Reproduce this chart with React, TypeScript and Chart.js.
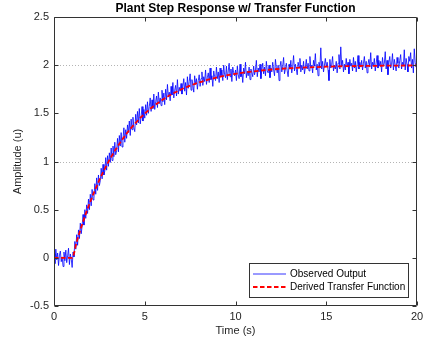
import React, { useEffect, useRef } from "react";
import { Chart, registerables } from "chart.js";

Chart.register(...registerables);

const FONT = "'Liberation Sans', Arial, Helvetica, sans-serif";

// Sampling interval of the observed signal (s)
const SAMPLE_STEP = 0.05;

// Observed (noisy) plant output, one value every SAMPLE_STEP seconds from 0 to 20 s
const observedOutput: number[] = [
  // 0 - 0.95 s
  0.04, -0.06, 0.09, -0.02, 0.05, -0.08, 0.03, 0.07, -0.04, 0.01, -0.09, 0.06, -0.03, 0.08, -0.05, 0.02, 0.10, -0.07, 0.04, -0.01,
  // 1 s
  -0.10, 0.06, 0.01, 0.17, 0.09, 0.24, 0.13, 0.29, 0.20, 0.36, 0.25, 0.33, 0.45, 0.34, 0.50, 0.41, 0.55, 0.46, 0.61, 0.50,
  // 2 s
  0.66, 0.54, 0.71, 0.60, 0.62, 0.77, 0.66, 0.83, 0.70, 0.86, 0.75, 0.80, 0.93, 0.82, 0.97, 0.86, 0.90, 1.04, 0.91, 1.06,
  // 3 s
  0.95, 1.09, 0.99, 1.14, 1.01, 1.16, 1.05, 1.20, 1.07, 1.11, 1.24, 1.10, 1.27, 1.16, 1.30, 1.15, 1.23, 1.35, 1.20, 1.33,
  // 4 s
  1.24, 1.38, 1.30, 1.42, 1.27, 1.44, 1.33, 1.46, 1.35, 1.31, 1.49, 1.38, 1.52, 1.40, 1.55, 1.39, 1.46, 1.57, 1.42, 1.54,
  // 5 s
  1.45, 1.59, 1.48, 1.62, 1.50, 1.57, 1.66, 1.52, 1.64, 1.55, 1.70, 1.54, 1.62, 1.68, 1.56, 1.72, 1.60, 1.66, 1.58, 1.74,
  // 6 s
  1.62, 1.71, 1.59, 1.75, 1.64, 1.80, 1.67, 1.72, 1.63, 1.78, 1.69, 1.82, 1.66, 1.74, 1.79, 1.68, 1.85, 1.70, 1.77, 1.73,
  // 7 s
  1.81, 1.70, 1.78, 1.86, 1.73, 1.82, 1.69, 1.88, 1.76, 1.83, 1.91, 1.74, 1.85, 1.79, 1.72, 1.89, 1.80, 1.86, 1.75, 1.84,
  // 8 s
  1.90, 1.78, 1.86, 1.93, 1.79, 1.88, 1.83, 1.95, 1.80, 1.87, 1.92, 1.82, 1.97, 1.85, 1.89, 1.78, 1.94, 1.88, 1.84, 1.98,
  // 9 s
  1.86, 1.93, 1.82, 1.97, 1.89, 1.95, 1.84, 2.00, 1.90, 1.87, 1.99, 1.85, 1.94, 2.02, 1.88, 1.96, 1.83, 1.98, 1.92, 1.89,
  // 10 s
  1.95, 1.84, 1.99, 1.90, 1.86, 2.01, 1.88, 1.93, 1.82, 1.97, 1.91, 2.03, 1.87, 1.94, 1.89, 1.98, 1.85, 1.96, 1.92, 1.88,
  // 11 s
  1.99, 1.90, 1.95, 2.05, 1.88, 1.97, 1.93, 2.01, 1.86, 1.96, 2.02, 1.91, 1.98, 1.89, 2.04, 1.94, 1.92, 2.00, 1.87, 1.97,
  // 12 s
  1.93, 2.03, 1.95, 1.89, 2.06, 1.97, 1.92, 2.00, 1.84, 1.98, 2.04, 1.93, 1.99, 2.08, 1.91, 1.96, 2.02, 1.94, 1.88, 2.01,
  // 13 s
  1.97, 2.05, 1.92, 1.99, 2.10, 1.94, 2.01, 1.96, 1.90, 2.03, 1.98, 2.07, 1.93, 2.00, 1.95, 2.04, 1.91, 1.98, 2.06, 1.96,
  // 14 s
  2.02, 1.94, 2.09, 1.97, 2.00, 1.92, 2.05, 1.99, 2.12, 1.95, 2.01, 1.89, 2.03, 1.97, 2.18, 1.96, 2.04, 1.93, 2.00, 2.07,
  // 15 s
  1.98, 2.03, 1.95, 1.84, 2.06, 1.97, 2.01, 2.09, 1.94, 2.00, 1.96, 2.04, 1.92, 2.02, 2.11, 1.96, 2.19, 1.99, 2.05, 1.93,
  // 16 s
  2.01, 1.95, 2.07, 1.98, 2.03, 1.91, 2.06, 1.99, 2.02, 1.94, 2.08, 1.97, 2.04, 1.93, 2.00, 2.10, 1.96, 2.03, 1.98, 2.05,
  // 17 s
  1.95, 2.02, 2.09, 1.97, 2.04, 1.92, 2.01, 2.06, 1.98, 2.13, 1.96, 2.03, 1.99, 2.07, 1.94, 2.02, 2.10, 1.97, 2.05, 1.99,
  // 18 s
  2.04, 1.93, 2.08, 1.99, 2.02, 2.14, 1.96, 2.05, 1.90, 2.03, 2.09, 1.97, 2.01, 2.12, 1.95, 2.06, 2.00, 1.94, 2.08, 2.02,
  // 19 s
  1.97, 2.05, 2.11, 1.96, 2.03, 1.99, 2.16, 1.95, 2.07, 2.01, 1.93, 2.09, 2.04, 2.13, 1.97, 2.06, 1.92, 2.17, 2.03, 1.98,
  // 20 s
  2.04,
];

// Derived transfer function response
const derivedTimes: number[] = [0, 0.5, 1, 1.25, 1.5, 1.75, 2, 2.5, 3, 3.5, 4, 4.5, 5, 5.5, 6, 6.5, 7, 7.5, 8, 9, 10, 11, 12, 13, 14, 15, 16, 17, 18, 19, 20];
const derivedValues: number[] = [0, 0, 0, 0.165, 0.317, 0.456, 0.583, 0.808, 0.997, 1.155, 1.289, 1.402, 1.497, 1.576, 1.643, 1.7, 1.747, 1.787, 1.821, 1.873, 1.91, 1.936, 1.955, 1.968, 1.977, 1.984, 1.989, 1.992, 1.994, 1.996, 1.997];

const xTicks: number[] = [0, 5, 10, 15, 20];
const yTicks: number[] = [-0.5, 0, 0.5, 1, 1.5, 2, 2.5];
const refLines: number[] = [1, 2];
const seriesLabels: string[] = ["Observed Output", "Derived Transfer Function"];

const titleText = "Plant Step Response w/ Transfer Function";
const xTitle = "Time (s)";
const yTitle = "Amplitude (u)";

const AXIS_COLOR = "#333333";

const refLinePlugin = {
  id: "refLines",
  beforeDatasetsDraw(chart: any) {
    const { ctx, chartArea } = chart;
    const y = chart.scales.y;
    ctx.save();
    ctx.strokeStyle = "#b4b4b4";
    ctx.lineWidth = 1;
    ctx.setLineDash([1, 2]);
    refLines.forEach((v) => {
      const py = Math.round(y.getPixelForValue(v)) + 0.5;
      ctx.beginPath();
      ctx.moveTo(chartArea.left, py);
      ctx.lineTo(chartArea.right, py);
      ctx.stroke();
    });
    ctx.restore();
  },
};

const framePlugin = {
  id: "frame",
  afterDatasetsDraw(chart: any) {
    const { ctx, chartArea } = chart;
    const xs = chart.scales.x;
    const ys = chart.scales.y;
    const l = Math.round(chartArea.left) + 0.5;
    const r = Math.round(chartArea.right) - 0.5;
    const t = Math.round(chartArea.top) + 0.5;
    const b = Math.round(chartArea.bottom) - 0.5;
    const tl = 4;
    ctx.save();
    ctx.strokeStyle = AXIS_COLOR;
    ctx.lineWidth = 1;
    ctx.beginPath();
    ctx.rect(l, t, r - l, b - t);
    xTicks.forEach((v) => {
      const px = Math.round(xs.getPixelForValue(v)) + 0.5;
      ctx.moveTo(px, b);
      ctx.lineTo(px, b - tl);
      ctx.moveTo(px, t);
      ctx.lineTo(px, t + tl);
    });
    yTicks.forEach((v) => {
      const py = Math.round(ys.getPixelForValue(v)) + 0.5;
      ctx.moveTo(l, py);
      ctx.lineTo(l + tl, py);
      ctx.moveTo(r, py);
      ctx.lineTo(r - tl, py);
    });
    ctx.stroke();
    ctx.restore();
  },
};

const legendPlugin = {
  id: "boxLegend",
  afterDraw(chart: any) {
    const { ctx, chartArea } = chart;
    const w = 160;
    const h = 35;
    const x = Math.round(chartArea.right - 8 - w);
    const y = Math.round(chartArea.bottom - 8 - h);
    ctx.save();
    ctx.fillStyle = "#ffffff";
    ctx.fillRect(x, y, w, h);
    ctx.strokeStyle = AXIS_COLOR;
    ctx.lineWidth = 1;
    ctx.strokeRect(x + 0.5, y + 0.5, w - 1, h - 1);
    chart.data.datasets.forEach((ds: any, i: number) => {
      const cy = y + 11 + i * 13;
      ctx.strokeStyle = ds.borderColor;
      ctx.lineWidth = ds.borderWidth;
      ctx.setLineDash(ds.borderDash || []);
      ctx.beginPath();
      ctx.moveTo(x + 4, cy);
      ctx.lineTo(x + 37, cy);
      ctx.stroke();
      ctx.setLineDash([]);
      ctx.fillStyle = "#000000";
      ctx.font = `10px ${FONT}`;
      ctx.textBaseline = "middle";
      ctx.textAlign = "left";
      ctx.fillText(ds.label, x + 41, cy);
    });
    ctx.restore();
  },
};

export default function App() {
  const ref = useRef<HTMLCanvasElement>(null);

  useEffect(() => {
    const observedPoints = observedOutput.map((v, i) => ({ x: i * SAMPLE_STEP, y: v }));
    const derivedPoints = derivedTimes.map((t, i) => ({ x: t, y: derivedValues[i] }));

    const chart = new Chart(ref.current as HTMLCanvasElement, {
      type: "line",
      data: {
        datasets: [
          {
            label: seriesLabels[0],
            data: observedPoints,
            borderColor: "#0000ff",
            borderWidth: 0.8,
            pointRadius: 0,
            tension: 0,
            order: 1,
          },
          {
            label: seriesLabels[1],
            data: derivedPoints,
            borderColor: "#ff0000",
            borderWidth: 1.8,
            borderDash: [4.5, 2.5],
            pointRadius: 0,
            cubicInterpolationMode: "monotone",
            order: 0,
          },
        ],
      },
      options: {
        animation: false,
        responsive: false,
        devicePixelRatio: 1,
        events: [],
        layout: { padding: { left: 0, right: 11, top: 0, bottom: 0 } },
        plugins: {
          legend: { display: false },
          tooltip: { enabled: false },
          title: {
            display: true,
            text: titleText,
            fullSize: false,
            color: "#000000",
            font: { family: FONT, size: 12, weight: "bold" },
            padding: { top: 1.5, bottom: 1.1 },
          },
        },
        scales: {
          x: {
            type: "linear",
            min: 0,
            max: 20,
            afterBuildTicks: (s: any) => {
              s.ticks = xTicks.map((v) => ({ value: v }));
            },
            afterFit: (s: any) => {
              s.height = 37;
            },
            ticks: {
              color: "#262626",
              font: { family: FONT, size: 11 },
              padding: 4,
              maxRotation: 0,
              autoSkip: false,
              callback: (v: any) => String(v),
            },
            grid: { display: false, drawTicks: false },
            border: { display: false },
            title: {
              display: true,
              text: xTitle,
              color: "#262626",
              font: { family: FONT, size: 11 },
              padding: { top: 0, bottom: 5 },
            },
          },
          y: {
            type: "linear",
            min: -0.5,
            max: 2.5,
            afterBuildTicks: (s: any) => {
              s.ticks = yTicks.map((v) => ({ value: v }));
            },
            afterFit: (s: any) => {
              s.width = 54;
            },
            ticks: {
              color: "#262626",
              font: { family: FONT, size: 11 },
              padding: 5,
              autoSkip: false,
              callback: (v: any) => String(v),
            },
            grid: { display: false, drawTicks: false },
            border: { display: false },
            title: {
              display: true,
              text: yTitle,
              color: "#262626",
              font: { family: FONT, size: 11 },
              padding: { top: 11, bottom: 0 },
            },
          },
        },
      } as any,
      plugins: [refLinePlugin, framePlugin, legendPlugin],
    });
    return () => chart.destroy();
  }, []);

  return (
    <div style={{ position: "absolute", left: 0, top: 0, width: 428, height: 343, background: "#ffffff" }}>
      <canvas ref={ref} width={428} height={343} style={{ display: "block", width: 428, height: 343 }} />
    </div>
  );
}
